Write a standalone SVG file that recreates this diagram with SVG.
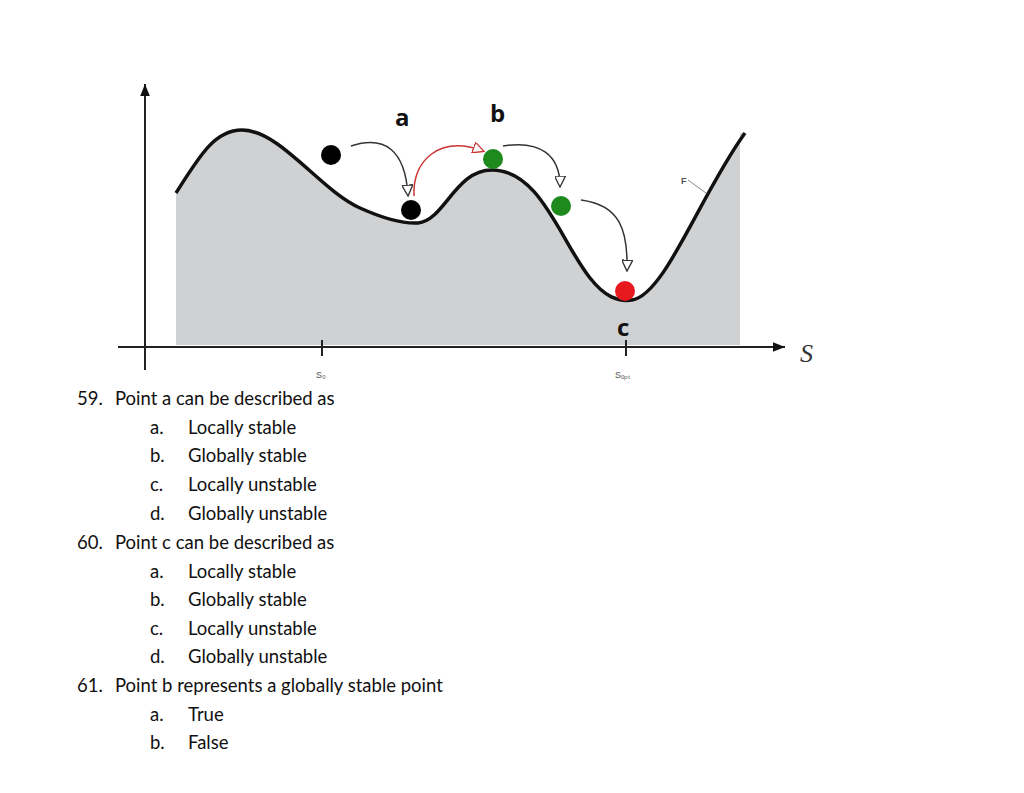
<svg xmlns="http://www.w3.org/2000/svg" width="1024" height="793" viewBox="0 0 1024 793">
<style>
.q{font-family:Lato,"Open Sans",sans-serif;font-size:18.5px;fill:#111}
.lbl{font-family:"Open Sans",sans-serif;font-weight:bold;font-size:24px;fill:#111}
.ar{fill:none;stroke:#333;stroke-width:1.5}
</style>
<defs>
<marker id="h" viewBox="0 0 10 10" refX="9" refY="5" markerWidth="12" markerHeight="11" orient="auto" markerUnits="userSpaceOnUse"><path d="M0,0 L10,5 L0,10 z" fill="#fff" stroke="#333" stroke-width="1.2"/></marker>
<marker id="hr" viewBox="0 0 10 10" refX="9" refY="5" markerWidth="12" markerHeight="11" orient="auto" markerUnits="userSpaceOnUse"><path d="M0,0 L10,5 L0,10 z" fill="#fff" stroke="#c33" stroke-width="1.2"/></marker>
<marker id="ax" viewBox="0 0 10 10" refX="10" refY="5" markerWidth="12" markerHeight="12" orient="auto" markerUnits="userSpaceOnUse"><path d="M0,1 L10,5 L0,9 z" fill="#111"/></marker>
</defs>
<rect width="1024" height="793" fill="#fff"/>
<g id="landscape">
<path d="M176,193 C200,155 215,130 242,130 C280,130 320,190 360,208 C380,217 400,224 418,223 C445,220 455,170 492,170 C540,170 560,240 590,278 C605,297 618,302 632,300 C665,295 700,195 745,133 L740,133 L740,345 L176,345 Z" fill="#d0d1d3"/>
<path d="M176,193 C200,155 215,130 242,130 C280,130 320,190 360,208 C380,217 400,224 418,223 C445,220 455,170 492,170 C540,170 560,240 590,278 C605,297 618,302 632,300 C665,295 700,195 745,133" fill="none" stroke="#111" stroke-width="3.5"/>
</g>
<g id="axes" stroke="#222" stroke-width="2">
<line x1="145" y1="370" x2="145" y2="84" marker-end="url(#ax)"/>
<line x1="118" y1="347" x2="785" y2="347" marker-end="url(#ax)"/>
<line x1="322" y1="340" x2="322" y2="356"/>
<line x1="626" y1="340" x2="626" y2="356"/>
</g>
<g id="axis-labels">
<text x="800" y="362" font-family="Liberation Serif,serif" font-style="italic" font-size="26" fill="#333">S</text>
<text x="316" y="378" font-family="Liberation Sans,sans-serif" font-size="9" fill="#555">S₀</text>
<text x="615" y="378" font-family="Liberation Sans,sans-serif" font-size="9" fill="#555">Sₒₚₜ</text>
<text x="681" y="184" font-family="Liberation Sans,sans-serif" font-size="9" font-weight="bold" fill="#555">F</text>
<line x1="688" y1="180" x2="706" y2="193" stroke="#888" stroke-width="1"/>
</g>
<g id="balls">
<circle cx="331" cy="155" r="10" fill="#000"/>
<circle cx="411" cy="210" r="10" fill="#000"/>
<circle cx="493" cy="159" r="10" fill="#1e8a1e"/>
<circle cx="561" cy="206" r="10" fill="#1e8a1e"/>
<circle cx="625" cy="291" r="10" fill="#e8191e"/>
</g>
<g id="connectors">
<path class="ar" d="M351,146 C385,135 405,150 408,195" marker-end="url(#h)"/>
<path d="M414,196 C412,160 440,135 483,151" fill="none" stroke="#c33" stroke-width="1.5" marker-end="url(#hr)"/>
<path class="ar" d="M503,146 C540,140 560,155 560,186" marker-end="url(#h)"/>
<path class="ar" d="M581,200 C620,205 628,230 627,270" marker-end="url(#h)"/>
</g>
<g id="point-labels">
<text class="lbl" x="395" y="126">a</text>
<text class="lbl" x="490" y="122">b</text>
<text class="lbl" x="617" y="336">c</text>
</g>
<g id="questions" class="q">
<text x="77" y="405">59.</text><text x="115" y="405">Point a can be described as</text>
<text x="150" y="434">a.</text><text x="188" y="434">Locally stable</text>
<text x="150" y="462">b.</text><text x="188" y="462">Globally stable</text>
<text x="150" y="491">c.</text><text x="188" y="491">Locally unstable</text>
<text x="150" y="520">d.</text><text x="188" y="520">Globally unstable</text>
<text x="77" y="549">60.</text><text x="115" y="549">Point c can be described as</text>
<text x="150" y="578">a.</text><text x="188" y="578">Locally stable</text>
<text x="150" y="606">b.</text><text x="188" y="606">Globally stable</text>
<text x="150" y="635">c.</text><text x="188" y="635">Locally unstable</text>
<text x="150" y="663">d.</text><text x="188" y="663">Globally unstable</text>
<text x="77" y="692">61.</text><text x="115" y="692">Point b represents a globally stable point</text>
<text x="150" y="721">a.</text><text x="188" y="721">True</text>
<text x="150" y="749">b.</text><text x="188" y="749">False</text>
</g>
</svg>
